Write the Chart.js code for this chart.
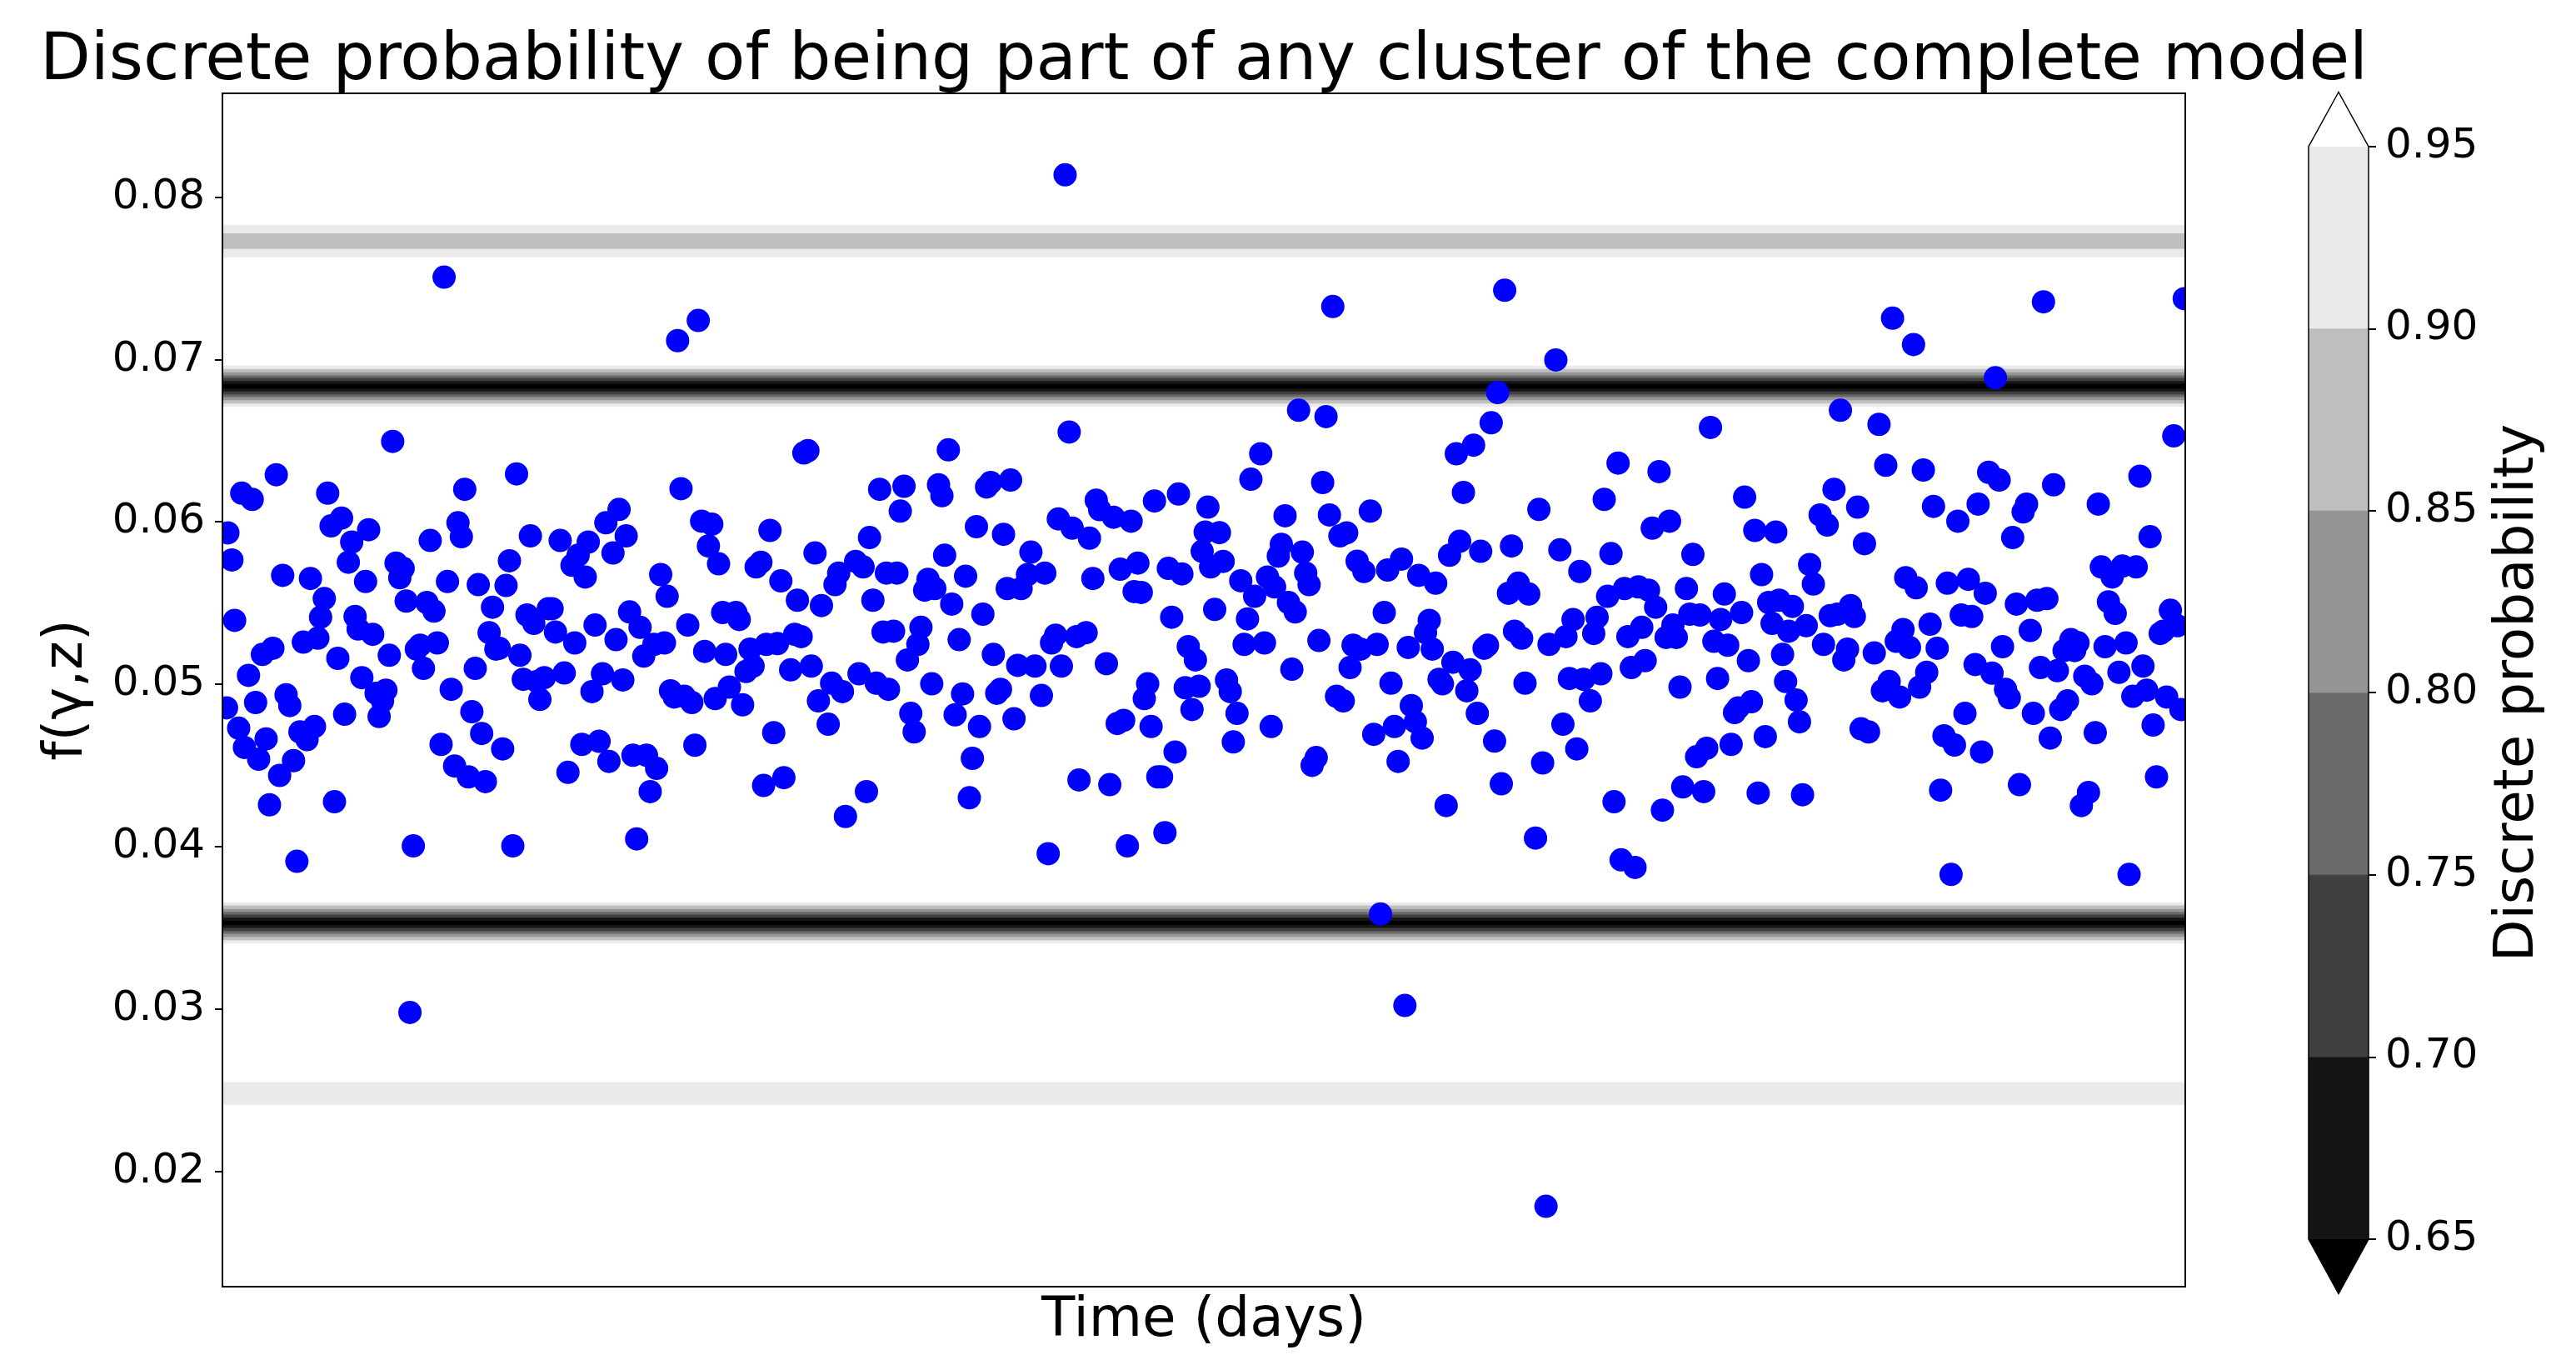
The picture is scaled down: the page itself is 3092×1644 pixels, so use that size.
<!DOCTYPE html>
<html><head><meta charset="utf-8">
<script src="https://cdn.jsdelivr.net/npm/chart.js@4.4.0/dist/chart.umd.min.js"></script>
<style>
html,body{margin:0;padding:0;background:#fff;}
#wrap{position:relative;width:3092px;height:1644px;background:#fff;}
#main{position:absolute;left:0;top:0;}
#cbar{position:absolute;left:2700px;top:0;}
</style></head><body>
<div id="wrap"><canvas id="main" width="3092" height="1644"></canvas><canvas id="cbar" width="392" height="1644"></canvas></div>
<script>
// ---------- text ----------
const titleText = 'Discrete probability of being part of any cluster of the complete model';
const xTitle = 'Time (days)';
const yTitle = 'f(γ,z)';
const cbTitle = 'Discrete probability';

// ---------- axis ranges / ticks ----------
const timeRange = [0, 580];
const fRange = [0.0129, 0.0864];
const fTickStep = 0.01;

// ---------- observations (time in days, f value) ----------
const daysA = [1.6,2.8,3.6,1.2,4.8,5.7,8.8,7.7,6.5,9.8,
10.7,12.9,11.8,14.9,15.9,13.9,16.9,17.8,18.8,19.9,
21.0,22.0,22.9,23.9,25.0,26.0,27.2,28.2,29.0,30.1,
31.1,32.1,33.1,34.1,35.2,37.2,38.2,39.2,40.1,36.1,
41.2,42.3,43.2,44.4,45.4,46.3,47.3,48.3,49.3,50.3,
51.3,52.4,53.4,54.3,55.4,56.4,57.3,58.4,59.4,60.4,
61.4,62.5,63.5,64.6,65.5,66.5,67.6,68.6,69.6,70.6,
71.6,72.7,73.7,74.7,75.6,76.6,77.7,78.8,79.8,80.8,
81.8,82.8,83.8,84.8,85.8,86.9,87.9,88.9,90.0,91.0,
92.0,93.0,93.8,95.1,96.3,97.4,98.4,99.8,101.0];
const fA = [0.05933,0.05766,0.05394,0.04855,0.04730,0.06177,0.06139,0.05055,0.04611,0.04888,
0.04539,0.04664,0.05184,0.05222,0.06291,0.04258,0.04439,0.05671,0.04936,0.04869,
0.04530,0.03910,0.04707,0.05260,0.04659,0.05652,0.04740,0.05284,0.05413,0.05528,
0.06177,0.05976,0.04277,0.05160,0.06024,0.05752,0.05876,0.05418,0.05341,0.04816,
0.05041,0.05633,0.05952,0.05308,0.04945,0.04802,0.04897,0.04964,0.05179,0.06496,
0.05747,0.05656,0.05714,0.05513,0.02979,0.04005,0.05217,0.05241,0.05098,0.05504,
0.05886,0.05451,0.05255,0.04630,0.07508,0.05633,0.04969,0.04497,0.05995,0.05909,
0.06201,0.04430,0.04831,0.05098,0.05614,0.04697,0.04401,0.05318,0.05475,0.05217,
0.05222,0.04602,0.05609,0.05761,0.04005,0.06296,0.05179,0.05031,0.05427,0.05914,
0.05375,0.05017,0.04907,0.05041,0.05466,0.05466,0.05322,0.05886,0.05070];

const daysB = [108.1,103.3,107.2,105.1,104.1,110.1,112.3,109.2,113.3,117.2,
119.3,115.4,116.3,120.3,123.4,118.3,106.2,111.3,114.2,102.1,
121.3,125.3,128.3,126.4,122.4,124.5,127.5,130.6,129.5,131.4,
134.5,140.6,135.5,137.5,132.4,133.5,136.5,138.7,139.6,141.6,
144.6,143.6,146.6,142.5,145.6,147.8,148.7,149.8,151.7,152.7,
153.7,154.7,155.9,156.8,157.7,159.1,159.9,160.7,161.8,162.9,
164.0,165.0,165.9,167.9,169.1,169.9,171.0,171.8,173.0,174.0,
175.1,176.1,177.0,179.0,180.0,181.0,182.1,183.2,184.1,187.1,
188.1,189.3,190.3,191.2,192.2,193.2,194.2,195.2,196.2,196.8];
const fB = [0.05876,0.05733,0.05661,0.05795,0.05255,0.05365,0.05065,0.04955,0.05995,0.06077,
0.05914,0.05809,0.05275,0.05446,0.05351,0.05027,0.04630,0.04649,0.04525,0.04458,
0.04563,0.04563,0.04482,0.04339,0.04048,0.05174,0.05246,0.05255,0.05676,0.05542,
0.07117,0.07241,0.06205,0.05365,0.04960,0.04922,0.04926,0.04888,0.04625,0.06005,
0.05986,0.05852,0.05742,0.05203,0.04912,0.05442,0.05184,0.04983,0.05442,0.05399,
0.04874,0.05079,0.05217,0.05112,0.05723,0.05752,0.04377,0.05246,0.05948,0.04702,
0.05251,0.05637,0.04425,0.05089,0.05308,0.05518,0.05294,0.06425,0.06439,0.05112,
0.05809,0.04898,0.05485,0.04754,0.05007,0.05614,0.05685,0.04955,0.04186,0.05757,
0.05065,0.05723,0.04339,0.05904,0.05518,0.05007,0.06201,0.05322,0.05685,0.04969];

const daysC = [201.4,200.3,199.3,198.3,203.4,204.4,202.4,205.5,206.4,207.5,
208.5,210.5,211.6,212.6,214.5,209.6,213.4,215.5,216.5,217.7,
218.7,219.6,221.6,220.7,222.8,223.7,224.7,225.8,227.0,227.8,
228.8,229.9,230.8,231.9,232.9,233.9,235.0,236.0,237.9,238.9,
240.1,242.0,243.0,244.0,245.0,246.2,247.0,247.9,250.2,251.1,
249.0,252.4,253.1,255.2,256.2,257.2,258.2,259.2,261.2,262.2,
263.3,264.4,265.3,266.3,267.4,268.5,269.4,270.5,271.5,272.4,
273.4,274.4,275.4,276.4,277.5,278.5,279.5,280.5,281.5,282.5,
283.5,284.5,285.4,286.5,287.5,288.6,289.5,290.4,291.2,292.0,
293.2];
const fC = [0.06220,0.06067,0.05685,0.05327,0.04821,0.04707,0.05150,0.05246,0.05351,0.05580,
0.05647,0.05590,0.06229,0.06162,0.06444,0.05003,0.05795,0.05494,0.04812,0.05275,
0.04941,0.05666,0.04544,0.04301,0.05971,0.04740,0.05432,0.06215,0.06243,0.05184,
0.04945,0.04969,0.05924,0.05590,0.06258,0.04788,0.05117,0.05590,0.05676,0.05814,
0.05112,0.04931,0.05685,0.03957,0.05255,0.05303,0.06019,0.05112,0.06554,0.05962,
0.08138,0.05294,0.04411,0.05318,0.05900,0.05652,0.06134,0.06076,0.05127,0.04382,
0.06029,0.04759,0.05709,0.04778,0.04005,0.06005,0.05571,0.05747,0.05566,0.04912,
0.05003,0.04740,0.06129,0.04430,0.04430,0.04086,0.05714,0.05413,0.04583,0.06172,
0.05680,0.04979,0.05232,0.04845,0.05150,0.04988,0.05819,0.05938,0.06091,0.05723,
0.05461];

const daysD = [294.6,295.7,296.7,297.8,298.7,299.8,300.9,301.9,302.9,303.9,
305.0,306.8,307.9,308.8,309.9,310.9,312.0,312.9,314.0,315.0,
316.0,317.0,318.0,319.1,320.1,321.1,322.0,323.2,324.0,325.1,
326.1,327.1,328.1,329.2,330.2,331.2,332.2,333.2,334.1,335.3,
337.3,336.3,339.2,340.2,341.2,342.2,343.3,344.3,345.3,346.3,
347.4,348.4,349.4,350.4,351.3,352.5,353.5,354.5,355.5,356.6,
357.5,358.5,359.5,360.5,361.6,362.6,363.6,364.6,365.6,366.7,
367.7,368.7,369.7,370.8,371.8,372.8,373.8,374.9,375.9,376.8,
377.9,378.9,380.0,380.9,381.8,382.9,383.9,384.9,386.0];
const fD = [0.05934,0.05757,0.05026,0.04955,0.04645,0.04821,0.05638,0.05246,0.05403,0.06263,
0.05542,0.06420,0.05255,0.05661,0.04740,0.05600,0.05790,0.05862,0.06038,0.05504,
0.05093,0.05446,0.06688,0.05814,0.05685,0.05614,0.04501,0.04549,0.05270,0.06243,
0.06649,0.06043,0.07327,0.04926,0.05914,0.04898,0.05933,0.05103,0.05241,0.05758,
0.05695,0.05217,0.06067,0.04692,0.05246,0.03585,0.05442,0.05704,0.05007,0.04740,
0.04525,0.05771,0.03022,0.05227,0.04869,0.04769,0.05671,0.04669,0.05318,0.05394,
0.05217,0.05623,0.05031,0.05003,0.04253,0.05795,0.05136,0.06420,0.05881,0.06182,
0.04960,0.05089,0.06473,0.04821,0.05819,0.05222,0.05241,0.06611,0.04650,0.06797,
0.04387,0.07427,0.05561,0.05852,0.05327,0.05623,0.05284,0.05007,0.05556];

const daysE = [389.0,388.0,390.1,391.1,392.0,394.0,395.2,396.1,397.0,398.0,
399.1,400.2,401.1,402.2,404.2,405.2,406.2,407.3,408.3,409.3,
410.3,411.2,412.4,413.3,414.3,415.3,416.3,417.4,418.4,419.4,
420.4,421.4,422.5,423.5,424.5,425.5,426.6,427.6,428.6,429.6,
430.7,431.5,432.6,433.6,434.5,435.6,436.6,437.7,438.6,439.7,
440.7,441.8,442.7,443.8,444.8,445.8,446.8,447.9,448.9,449.8,
450.9,451.8,452.8,453.8,454.8,455.9,456.9,457.9,459.0,460.0,
461.0,461.9,462.8,463.9,465.0,466.0,466.9,468.0,469.0,470.1,
472.1,473.1,474.2,475.1,476.2,477.2,478.1,479.1,480.2,481.1,
482.2,483.2,484.2,485.2];
const fE = [0.06077,0.04053,0.04516,0.01785,0.05246,0.06998,0.05828,0.04754,0.05294,0.05036,
0.05399,0.04602,0.05695,0.05031,0.04898,0.05313,0.05413,0.05065,0.06139,0.05542,
0.05805,0.04277,0.06363,0.03919,0.05590,0.05294,0.05103,0.03872,0.05600,0.05351,
0.05146,0.05580,0.05962,0.05475,0.06310,0.04225,0.05289,0.06005,0.05365,0.05289,
0.04983,0.04368,0.05590,0.05432,0.05800,0.04554,0.05427,0.04339,0.04606,0.06582,
0.05265,0.05036,0.05399,0.05556,0.05241,0.04630,0.04826,0.04855,0.05442,0.06153,
0.05146,0.04893,0.05948,0.04330,0.05676,0.04678,0.05504,0.05375,0.05938,0.05518,
0.05184,0.05017,0.05327,0.05480,0.04903,0.04769,0.04320,0.05361,0.05738,0.05618,
0.06043,0.05246,0.05981,0.05423,0.06201,0.05432,0.06688,0.05150,0.05217,0.05485,
0.05418,0.06091,0.04726,0.05866];

const daysF = [486.4,488.1,489.5,490.5,491.5,492.5,493.5,494.6,495.6,497.4,
496.6,498.5,499.7,500.5,501.5,502.6,503.6,504.6,505.6,506.7,
507.7,508.7,509.7,510.8,511.8,512.8,513.8,514.9,515.9,516.9,
517.9,518.8,519.8,520.9,521.9,522.9,523.9,525.0,526.0,526.9,
528.0,529.0,530.1,531.0,532.1,533.1,534.2,535.1,536.2,537.2,
538.1,539.1,540.1,541.1,542.2,543.2,544.2,545.2,546.2,547.3,
548.3,549.3,550.3,551.4,552.4,553.4,554.3,555.2,556.3,557.3,
558.4,559.3,560.4,561.4,562.5,563.4,564.5,565.5,566.6,567.5,
568.6,569.6,570.5,571.5,572.6,573.5,574.5,575.6,576.6,577.6,
578.7,579.7];
const fF = [0.04707,0.05193,0.06601,0.04960,0.06349,0.05017,0.07255,0.05265,0.04922,0.05657,
0.05337,0.05227,0.07093,0.05595,0.04983,0.06320,0.05074,0.05370,0.06096,0.05222,
0.04348,0.04683,0.05623,0.03829,0.04626,0.06005,0.05427,0.04821,0.05647,0.05418,
0.05122,0.06110,0.04583,0.05561,0.06306,0.05069,0.06888,0.06258,0.05232,0.04969,
0.04917,0.05904,0.05494,0.04382,0.06062,0.06110,0.05332,0.04821,0.05518,0.05103,
0.07356,0.05528,0.04669,0.06229,0.05084,0.04845,0.05208,0.04898,0.05275,0.05208,
0.05256,0.04253,0.05050,0.04334,0.05003,0.04702,0.06110,0.05723,0.05232,0.05508,
0.05661,0.05437,0.05074,0.05728,0.05255,0.03829,0.04926,0.05723,0.06282,0.05112,
0.04964,0.05909,0.04749,0.04430,0.05313,0.05327,0.04922,0.05456,0.06530,0.05361,
0.04845,0.07375];

// ---------- probability contour levels ----------
const cbLevels = [0.65, 0.70, 0.75, 0.80, 0.85, 0.90, 0.95];
const cbColors = ['#151515', '#404040', '#6a6a6a', '#959595', '#bfbfbf', '#eaeaea'];
const cbUnderColor = '#000000';
const cbOverColor = '#ffffff';
const cbExtendFrac = 0.05;
// band fill colours from outer (0.90-0.95) to core (<0.65)
const bandLevelColors = ['#eaeaea', '#bfbfbf', '#959595', '#6a6a6a', '#404040', '#151515', '#000000'];
// low-probability bands: centre (f) and half-width of each contour level
const darkBandCenters = [0.06836, 0.03531];
const darkBandHalfWidths = [0.00127, 0.00107, 0.00086, 0.00067, 0.00051, 0.00032, 0.00014];
const greyBandCenters = [0.0773];
const greyBandHalfWidths = [0.00100, 0.00048];
const paleBandCenters = [0.0248];
const paleBandHalfWidths = [0.0007];

// ---------- build ----------
Chart.defaults.font.family = 'DejaVu Sans';
Chart.defaults.color = '#000';

const allDays = [].concat(daysA, daysB, daysC, daysD, daysE, daysF);
const allF = [].concat(fA, fB, fC, fD, fE, fF);
const points = allDays.map((d, i) => ({x: d, y: allF[i]}));

const bandSets = [];
function addBands(centers, halfWidths) {
  centers.forEach(c => {
    halfWidths.forEach((h, lvl) => {
      bandSets.push({
        type: 'line',
        data: [{x: timeRange[0], y: c + h}, {x: timeRange[1], y: c + h}],
        fill: {value: c - h},
        backgroundColor: bandLevelColors[lvl],
        borderColor: 'rgba(0,0,0,0)',
        borderWidth: 0,
        pointRadius: 0,
        pointHoverRadius: 0,
        order: 100 - lvl,
        clip: 0
      });
    });
  });
}
addBands(darkBandCenters, darkBandHalfWidths);
addBands(greyBandCenters, greyBandHalfWidths);
addBands(paleBandCenters, paleBandHalfWidths);

const framePlugin = {
  id: 'frame',
  afterDraw(chart) {
    const {ctx, chartArea: a} = chart;
    ctx.save();
    ctx.strokeStyle = '#000';
    ctx.lineWidth = 2;
    ctx.strokeRect(a.left, a.top, a.right - a.left, a.bottom - a.top);
    // title, centred over the axes
    ctx.fillStyle = '#000';
    ctx.font = '79px "DejaVu Sans"';
    ctx.textAlign = 'center';
    ctx.textBaseline = 'alphabetic';
    ctx.fillText(titleText, (a.left + a.right) / 2, a.top - 17);
    ctx.restore();
  }
};

new Chart(document.getElementById('main'), {
  type: 'scatter',
  data: {
    datasets: [{
      type: 'scatter',
      data: points,
      backgroundColor: '#0000ff',
      borderWidth: 0,
      pointRadius: 14,
      pointHoverRadius: 14,
      order: 0,
      clip: 0
    }].concat(bandSets)
  },
  options: {
    responsive: false,
    animation: false,
    devicePixelRatio: 1,
    events: [],
    layout: {padding: {left: 0, right: 469, top: 112, bottom: 0}},
    plugins: {
      legend: {display: false},
      tooltip: {enabled: false},
      title: {display: false}
    },
    scales: {
      x: {
        type: 'linear', min: timeRange[0], max: timeRange[1],
        ticks: {display: false},
        grid: {display: false},
        border: {display: false},
        title: {display: true, text: xTitle, color: '#000', font: {size: 66}, padding: {top: 0, bottom: 19}},
        afterFit(s) { s.height = 100; }
      },
      y: {
        type: 'linear', min: fRange[0], max: fRange[1],
        ticks: {
          stepSize: fTickStep, includeBounds: false, color: '#000',
          font: {size: 50}, padding: 12,
          callback: v => v.toFixed(2)
        },
        grid: {display: true, drawOnChartArea: false, drawTicks: true, tickLength: 9, color: '#000', lineWidth: 2},
        border: {display: false},
        title: {display: true, text: yTitle, color: '#000', font: {size: 66}, padding: {top: 41, bottom: 0}},
        afterFit(s) { s.width = 267; }
      }
    }
  },
  plugins: [framePlugin]
});

// ---------- colour bar ----------
const cbPlugin = {
  id: 'cbExtras',
  afterDatasetsDraw(chart) {
    const {ctx, chartArea: a, scales} = chart;
    const y = scales.y;
    const lo = cbLevels[0], hi = cbLevels[cbLevels.length - 1];
    const ext = (hi - lo) * cbExtendFrac;
    const yHi = y.getPixelForValue(hi), yLo = y.getPixelForValue(lo);
    const yTop = y.getPixelForValue(hi + ext), yBot = y.getPixelForValue(lo - ext);
    const cx = (a.left + a.right) / 2;
    ctx.save();
    ctx.fillStyle = cbOverColor;
    ctx.beginPath(); ctx.moveTo(a.left, yHi); ctx.lineTo(cx, yTop); ctx.lineTo(a.right, yHi); ctx.closePath(); ctx.fill();
    ctx.fillStyle = cbUnderColor;
    ctx.beginPath(); ctx.moveTo(a.left, yLo); ctx.lineTo(cx, yBot); ctx.lineTo(a.right, yLo); ctx.closePath(); ctx.fill();
    ctx.strokeStyle = '#000';
    ctx.lineWidth = 1.5;
    ctx.beginPath();
    ctx.moveTo(a.left, yLo); ctx.lineTo(cx, yBot); ctx.lineTo(a.right, yLo);
    ctx.lineTo(a.right, yHi); ctx.lineTo(cx, yTop); ctx.lineTo(a.left, yHi);
    ctx.closePath(); ctx.stroke();
    // label
    ctx.fillStyle = '#000';
    ctx.font = '66px "DejaVu Sans"';
    ctx.textAlign = 'center';
    ctx.textBaseline = 'alphabetic';
    ctx.translate(340, (a.top + a.bottom) / 2);
    ctx.rotate(-Math.PI / 2);
    ctx.fillText(cbTitle, 0, 0);
    ctx.restore();
  }
};

new Chart(document.getElementById('cbar'), {
  type: 'bar',
  data: {
    labels: ['p'],
    datasets: cbColors.map((c, i) => ({
      data: [[cbLevels[i], cbLevels[i + 1]]],
      backgroundColor: c,
      borderWidth: 0,
      grouped: false,
      barPercentage: 1,
      categoryPercentage: 1
    }))
  },
  options: {
    responsive: false,
    animation: false,
    devicePixelRatio: 1,
    events: [],
    layout: {padding: {left: 71, top: 176, bottom: 157, right: 0}},
    plugins: {legend: {display: false}, tooltip: {enabled: false}, title: {display: false}},
    scales: {
      x: {display: false},
      y: {
        position: 'right', min: cbLevels[0], max: cbLevels[cbLevels.length - 1],
        ticks: {stepSize: 0.05, includeBounds: false, color: '#000', font: {size: 50}, padding: 11,
                callback: v => v.toFixed(2)},
        grid: {display: true, drawOnChartArea: false, drawTicks: true, tickLength: 9, color: '#000', lineWidth: 2},
        border: {display: false},
        afterFit(s) { s.width = 249; }
      }
    }
  },
  plugins: [cbPlugin]
});
</script>
</body></html>
